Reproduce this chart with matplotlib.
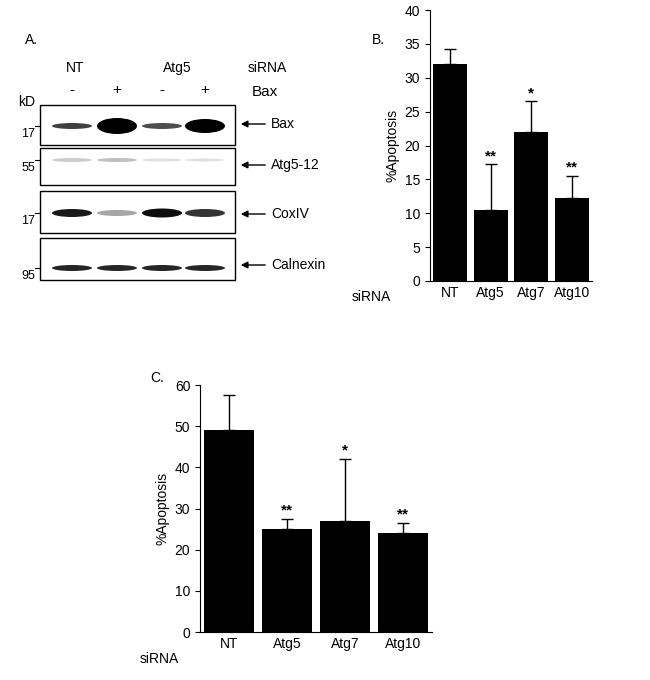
import numpy as np
import matplotlib.pyplot as plt
from matplotlib.patches import Ellipse, Rectangle

W, H = 650, 680
groups = ["NT", "Atg5", "Atg7", "Atg10"]
apop_b = [32, 10.5, 22, 12.3]
err_b = [2.3, 6.7, 4.5, 3.2]
stars_b = ["", "**", "*", "**"]
apop_c = [49, 25, 27, 24]
err_c = [8.5, 2.5, 15, 2.5]
stars_c = ["", "**", "*", "**"]

# blot panel: band intensity per lane
lanes_x = [72, 117, 162, 205]
blot_rows = ["Bax", "Atg5-12", "CoxIV", "Calnexin"]
blot_kd = ["17", "55", "17", "95"]
band_int = [[0.75, 1.0, 0.7, 1.0],
            [0.2, 0.25, 0.12, 0.12],
            [0.9, 0.35, 0.95, 0.8],
            [0.85, 0.85, 0.85, 0.85]]
band_h = [[6, 16, 6, 14], [4, 4, 3, 3], [8, 6, 9, 8], [6, 6, 6, 6]]

fig = plt.figure(figsize=(6.5, 6.8), dpi=100)
plt.rcParams['font.family'] = 'Liberation Sans'


def ax_px(x0, y0, x1, y1):
    return fig.add_axes([x0 / W, 1 - y1 / H, (x1 - x0) / W, (y1 - y0) / H])


# --- panel A ---
ov = fig.add_axes([0, 0, 1, 1])
ov.set_xlim(0, W)
ov.set_ylim(H, 0)
ov.axis("off")
boxes = [(105, 145), (148, 185), (191, 233), (238, 280)]
band_y = [126, 160, 213, 268]
label_y = [124, 165, 214, 265]
for r, (y0, y1) in enumerate(boxes):
    ov.add_patch(Rectangle((40, y0), 195, y1 - y0, fill=False, lw=1, ec="black"))
    for i, lx in enumerate(lanes_x):
        g = 1 - band_int[r][i]
        ov.add_patch(Ellipse((lx, band_y[r]), 40, band_h[r][i], color=(g, g, g), lw=0))
    ov.annotate("", xy=(238, label_y[r]), xytext=(268, label_y[r]),
                arrowprops=dict(arrowstyle="-|>", color="black", lw=1))
    ov.text(271, label_y[r], blot_rows[r], va="center", fontsize=10)
    ov.text(28, band_y[r] + 8, blot_kd[r], va="center", ha="center", fontsize=9)
    ov.plot([35, 40], [band_y[r], band_y[r]], color="black", lw=0.8)
ov.text(25, 40, "A.", fontsize=10, va="center")
ov.text(75, 68, "NT", fontsize=10, ha="center", va="center")
ov.text(177, 68, "Atg5", fontsize=10, ha="center", va="center")
ov.text(248, 68, "siRNA", fontsize=10, va="center")
for lx, s in zip(lanes_x, ["-", "+", "-", "+"]):
    ov.text(lx, 90, s, fontsize=11, ha="center", va="center")
ov.text(252, 92, "Bax", fontsize=11, va="center")
ov.text(18, 102, "kD", fontsize=10, va="center")
ov.text(372, 40, "B.", fontsize=10, va="center")
ov.text(352, 297, "siRNA", fontsize=10, va="center")
ov.text(150, 378, "C.", fontsize=10, va="center")
ov.text(140, 659, "siRNA", fontsize=10, va="center")


def bars(ax, vals, errs, stars, ymax, step):
    x = np.arange(len(groups))
    ax.bar(x, vals, width=0.85, color="black")
    ax.errorbar(x, vals, yerr=[np.zeros(len(errs)), errs], fmt="none",
                ecolor="black", capsize=4, lw=1)
    for xi, v, e, s in zip(x, vals, errs, stars):
        if s:
            ax.text(xi, v + e + ymax * 0.005, s, ha="center", va="bottom",
                    fontsize=11, fontweight="bold")
    ax.set_xlim(-0.5, len(groups) - 0.5)
    ax.set_ylim(0, ymax)
    ax.set_yticks(np.arange(0, ymax + 1, step))
    ax.set_xticks(x)
    ax.set_xticklabels(groups, fontsize=10)
    ax.tick_params(axis="x", length=0)
    ax.tick_params(axis="y", labelsize=10)
    ax.spines["top"].set_visible(False)
    ax.spines["right"].set_visible(False)
    ax.set_ylabel("%Apoptosis", fontsize=10)


axb = ax_px(430, 10, 592, 281)
bars(axb, apop_b, err_b, stars_b, 40, 5)
axc = ax_px(200, 385, 432, 632)
bars(axc, apop_c, err_c, stars_c, 60, 10)

fig.savefig("out.png", dpi=100)
